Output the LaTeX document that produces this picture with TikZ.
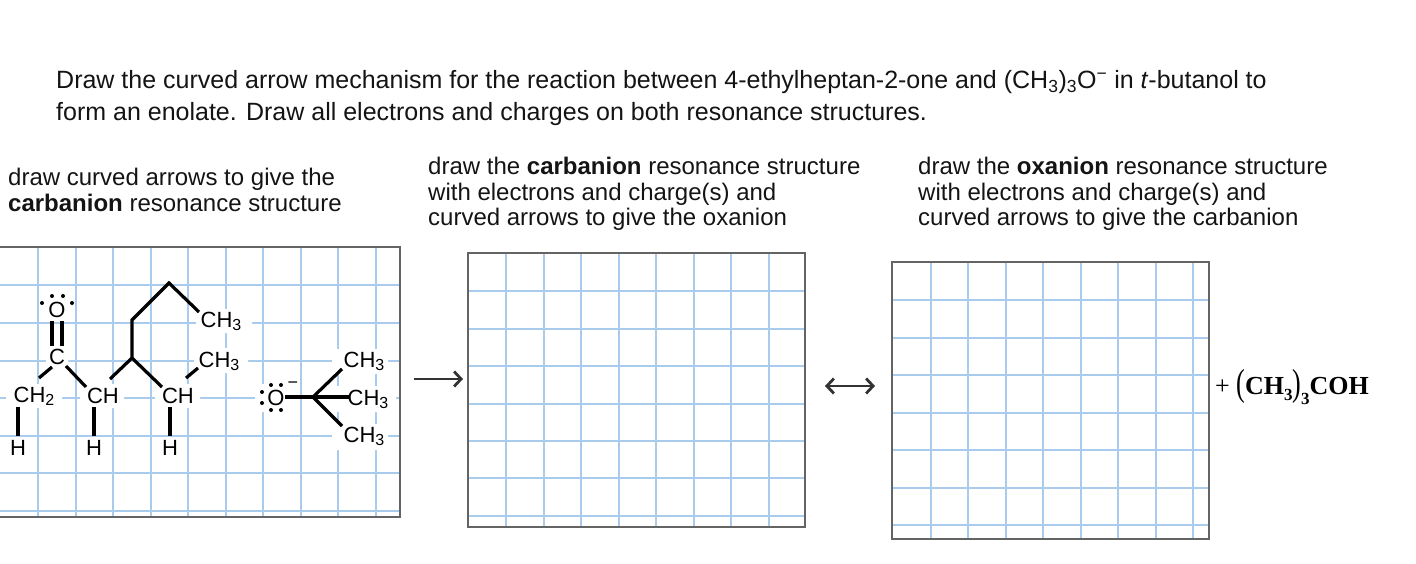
\documentclass[tikz,border=0pt]{standalone}
\usepackage{fontspec}
\setmainfont{Liberation Sans}
\newfontfamily\serifb{Liberation Serif}
\usetikzlibrary{arrows.meta}
\definecolor{gridblue}{RGB}{170,204,236}
\definecolor{boxgray}{RGB}{100,100,100}
\definecolor{txt}{RGB}{20,20,20}
\newcommand{\sub}[1]{\raisebox{-3pt}{\fontsize{16}{16}\selectfont #1}}
\tikzset{
  head/.style={anchor=north west,align=left,inner sep=0pt,font=\fontsize{25}{32}\selectfont,text=txt},
  col/.style={head,font=\fontsize{24}{25.5}\selectfont},
  atom/.style={inner sep=0pt,font=\fontsize{22}{22}\selectfont},
  bond/.style={line width=3.2pt},
  gridln/.style={gridblue,line width=2pt},
  frame/.style={boxgray,line width=2pt},
  dot/.style={circle,fill=black,inner sep=0pt,minimum size=4pt},
  rxn/.style={line width=2.8pt,black!80}
}
\begin{document}
\begin{tikzpicture}[x=1pt,y=-1pt]
\useasboundingbox (0,0) rectangle (1416,564);
% header
\node[head] (q) at (56,70) {Draw the curved arrow mechanism for the reaction between 4-ethylheptan-2-one and (CH\textsubscript{3})\textsubscript{3}O\textsuperscript{−} in \textit{t}-butanol to\\form an enolate. Draw all electrons and charges on both resonance structures.};
\node[col] (h1) at (8,168) {draw curved arrows to give the\\\textbf{carbanion} resonance structure};
\node[col] (h2) at (428,157) {draw the \textbf{carbanion} resonance structure\\with electrons and charge(s) and\\curved arrows to give the oxanion};
\node[col] (h3) at (918,157) {draw the \textbf{oxanion} resonance structure\\with electrons and charge(s) and\\curved arrows to give the carbanion};
% box 1
\foreach \x in {38,76,113,151,188,226,263,301,338,376} \draw[gridln] (\x,247) -- (\x,517);
\foreach \y in {285,323,361,398,436,473,511} \draw[gridln] (0,\y) -- (400,\y);
\draw[frame] (0,247) -- (400,247) -- (400,517) -- (0,517);
% box 2
\foreach \x in {506,544,581,619,656,694,731,769} \draw[gridln] (\x,253) -- (\x,527);
\foreach \y in {291,329,366,404,441,478,516} \draw[gridln] (468,\y) -- (805,\y);
\draw[frame] (468,253) rectangle (805,527);
% box 3
\foreach \x in {931,968,1006,1043,1081,1118,1156,1193} \draw[gridln] (\x,262) -- (\x,539);
\foreach \y in {300,338,375,413,450,488,525} \draw[gridln] (892,\y) -- (1209,\y);
\draw[frame] (892,262) rectangle (1209,539);
% molecule: ketone
\fill[white] (6,384) rectangle (62,408) (80,384) rectangle (124,408) (155,384) rectangle (200,408)
  (46,347) rectangle (68,368) (46,298) rectangle (68,320) (8,438) rectangle (28,458) (84,438) rectangle (104,458) (160,438) rectangle (180,458)
  (196,309) rectangle (252,333) (194,348) rectangle (248,373);
\node[atom] (O1) at (57,310) {O};
\node[dot] (d1) at (52,296) {}; \node[dot] (d2) at (63,296) {};
\node[dot] (d3) at (42,303) {}; \node[dot] (d4) at (72,303) {};
\node[atom] (C2) at (57,357) {C};
\node[atom] (CH2) at (34,396) {CH\sub{2}};
\node[atom] (H1) at (18,448) {H};
\node[atom] (CH3a) at (103,396) {CH};
\node[atom] (H3) at (94,448) {H};
\node[atom] (CH5) at (178,396) {CH};
\node[atom] (H5) at (170,448) {H};
\node[atom] (Me1) at (221,321) {CH\sub{3}};
\node[atom] (Me2) at (219,361) {CH\sub{3}};
\coordinate (b4) at (132,358);
\coordinate (b4u) at (132,320);
\coordinate (b6) at (169,283);
\draw[bond] (52,321) -- (52,346);
\draw[bond] (62,321) -- (62,346);
\draw[bond] (52,367) -- (39,378);
\draw[bond] (66,366) -- (86,387);
\draw[bond] (110,379) -- (b4) -- (b4u) -- (b6) -- (199,312);
\draw[bond] (b4) -- (162,387);
\draw[bond] (186,378) -- (198,368);
\draw[bond] (18,407) -- (18,436);
\draw[bond] (94,407) -- (94,436);
\draw[bond] (170,407) -- (170,436);
% alkoxide
\fill[white] (255,384) rectangle (298,412) (332,349) rectangle (388,374) (332,386) rectangle (396,412) (332,424) rectangle (388,450);
\node[atom] (O2) at (276,398) {O};
\node[atom] (minus) at (293,385) {\fontsize{18}{18}\selectfont −};
\node[dot] at (271,385) {}; \node[dot] at (281,385) {};
\node[dot] at (271,410) {}; \node[dot] at (281,410) {};
\node[dot] at (262,392) {}; \node[dot] at (262,403) {};
\coordinate (Ct) at (313,397);
\node[atom] (Ma) at (364,361) {CH\sub{3}};
\node[atom] (Mb) at (368,399) {CH\sub{3}};
\node[atom] (Mc) at (364,436) {CH\sub{3}};
\draw[bond] (285,397) -- (Ct);
\draw[bond] (Ct) -- (342,369);
\draw[bond] (Ct) -- (350,397);
\draw[bond] (Ct) -- (342,426);
% reaction arrows
\coordinate (a1) at (414,379); \coordinate (a2) at (463,379);
\draw[rxn,-{Straight Barb[length=7pt,width=15pt]}] (a1) -- (a2);
\coordinate (r1) at (825,386); \coordinate (r2) at (875,386);
\draw[rxn,{Straight Barb[length=7pt,width=15pt]}-{Straight Barb[length=7pt,width=15pt]}] (r1) -- (r2);
% product
\node[anchor=west,inner sep=0pt,font=\serifb\fontsize{26}{26}\selectfont] (prod) at (1215,387)
 {+ \raisebox{-1pt}{\scalebox{1}[1.45]{(}}\textbf{CH\raisebox{-6pt}{\fontsize{17}{17}\selectfont 3}}\raisebox{-1pt}{\scalebox{1}[1.45]{)}}\raisebox{-10pt}{\fontsize{17}{17}\selectfont\bfseries 3}\textbf{COH}};
\end{tikzpicture}
\end{document}
